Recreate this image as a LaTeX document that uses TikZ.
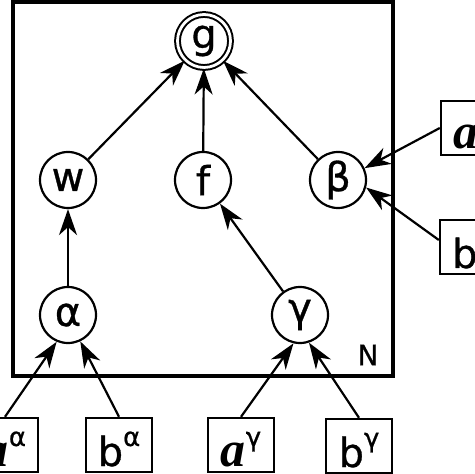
\documentclass[tikz,border=0pt]{standalone}
\usepackage{fontspec}
\setmainfont{DejaVu Sans}[BoldFont=DejaVu Sans,BoldFeatures={FakeBold=0.8}]
\newfontfamily\itserif{Liberation Serif}
\usetikzlibrary{arrows.meta,shapes}
\tikzstyle{vertex}=[circle,draw,line width=1.1pt,minimum size=28pt,inner sep=0pt,font=\bfseries\fontsize{20}{20}\selectfont]
\tikzstyle{root vertex}=[circle,draw,line width=1pt,double,double distance=1.4pt,minimum size=26.5pt,inner sep=0pt,font=\bfseries\fontsize{20}{20}\selectfont]
\tikzstyle{param}=[rectangle,draw,line width=1.2pt,minimum width=33pt,minimum height=27pt,inner sep=0pt,text height=21pt,text depth=0pt,font=\bfseries\fontsize{20}{20}\selectfont]
\tikzstyle{plate}=[draw,line width=1.6pt]
\tikzstyle{edge} = [draw,line width=1.1pt,-{Stealth[length=13pt,width=9pt,inset=4pt]}]
\newcommand{\raiseidx}[1]{\raisebox{10pt}{\fontsize{13}{13}\selectfont #1}}
\newcommand{\ita}{{\itserif\itshape\fontsize{25}{25}\selectfont a}}

\begin{document}
\begin{tikzpicture}[x=0.5pt,y=-0.5pt]
        \useasboundingbox (0,0) rectangle (474,474);
        \draw[plate] (13,2) rectangle (393,376);
        \node[font=\bfseries\fontsize{14}{14}\selectfont] (n) at (368,355) {N};
        \node[root vertex] (g) at (204,41) {g};
        \node[vertex] (w) at (68,180) {w};
        \node[vertex] (f) at (203,180) {f};
        \node[vertex] (beta) at (338,180) {β};
        \node[vertex] (alpha) at (68,315) {α};
        \node[vertex] (gamma) at (300,315) {γ};
        \node[param] (aalpha) at (5,445) {\ita\raiseidx{α}};
        \node[param] (balpha) at (119,445) {b\raiseidx{α}};
        \node[param] (agamma) at (241,445) {\ita\raiseidx{γ}};
        \node[param] (bgamma) at (359,446) {b\raiseidx{γ}};
        \node[param] (abeta) at (474,128) {\ita\raiseidx{β}};
        \node[param] (bbeta) at (473,247) {b\raiseidx{β}};
        \draw[edge] (w) to (g);
        \draw[edge] (f) to (g);
        \draw[edge] (beta) to (g);
        \draw[edge] (alpha) to (w);
        \draw[edge] (gamma) to (f);
        \draw[edge] (abeta.west) to (beta.24);
        \draw[edge] ([yshift=3.5pt]bbeta.west) to (beta.-15);
        \draw[edge] (aalpha.north) to (alpha.-113);
        \draw[edge] (balpha.north) to (alpha.-65);
        \draw[edge] (agamma.north) to (gamma.-103);
        \draw[edge] (bgamma.north) to (gamma.-72);
      \end{tikzpicture}
\end{document}
